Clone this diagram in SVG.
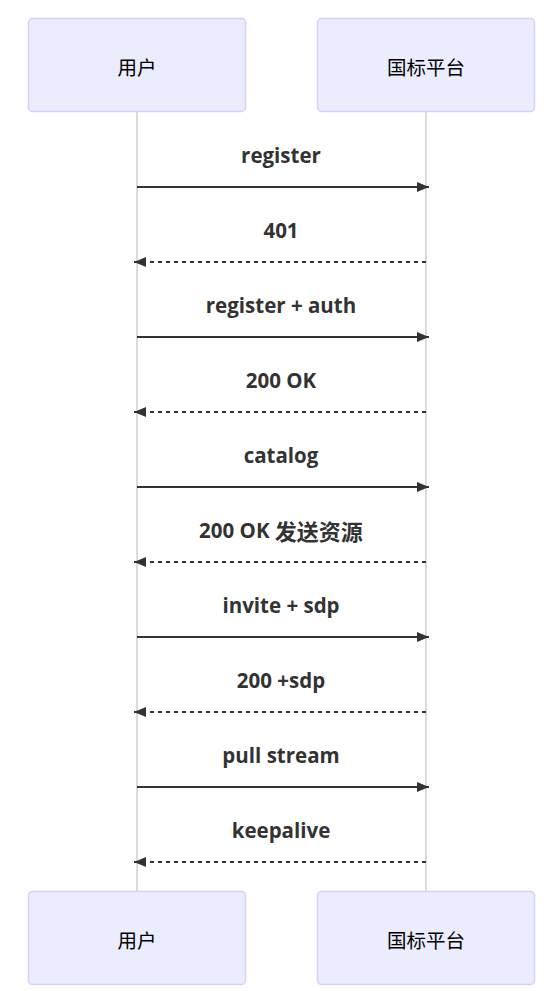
<svg xmlns="http://www.w3.org/2000/svg" width="551" height="991" viewBox="0 0 551 991">
<defs>
<style>
.actor{fill:#ECECFF;stroke:#D6D0FA;stroke-width:1.5}
.atext{font-family:"Noto Sans CJK SC","Noto Sans",sans-serif;font-size:19.5px;fill:#000;text-anchor:middle;dominant-baseline:central}
.life{stroke:#CFCFCF;stroke-width:1.5}
.msg{stroke:#333;stroke-width:2;fill:none}
.dash{stroke-dasharray:4,4}
.mtext{font-family:"Open Sans","Noto Sans CJK SC",sans-serif;font-size:20.5px;font-weight:bold;fill:#333;text-anchor:middle;dominant-baseline:central}
.cjk{font-family:"Noto Sans CJK SC",sans-serif;font-size:22px}
</style>
<marker id="ah" viewBox="0 0 12 10" refX="12" refY="5" markerWidth="12" markerHeight="10" markerUnits="userSpaceOnUse" orient="auto">
<path d="M0,0 L12,5 L0,10 z" fill="#333"/>
</marker>
</defs>
<g id="lifelines">
<line class="life" x1="137" y1="112" x2="137" y2="891"/>
<line class="life" x1="426" y1="112" x2="426" y2="891"/>
</g>
<g id="actor-user-top"><rect class="actor" x="28.5" y="18.5" width="217" height="93" rx="4"/><text class="atext" x="137" y="66">用户</text></g>
<g id="actor-platform-top"><rect class="actor" x="317.5" y="18.5" width="217" height="93" rx="4"/><text class="atext" x="426" y="66">国标平台</text></g>
<g id="actor-user-bottom"><rect class="actor" x="28.5" y="891.5" width="217" height="93" rx="4"/><text class="atext" x="137" y="939">用户</text></g>
<g id="actor-platform-bottom"><rect class="actor" x="317.5" y="891.5" width="217" height="93" rx="4"/><text class="atext" x="426" y="939">国标平台</text></g>
<g id="connectors">
<line class="msg" x1="137" y1="187" x2="429" y2="187" marker-end="url(#ah)"/>
<line class="msg dash" x1="426" y1="262" x2="134" y2="262" marker-end="url(#ah)"/>
<line class="msg" x1="137" y1="337" x2="429" y2="337" marker-end="url(#ah)"/>
<line class="msg dash" x1="426" y1="412" x2="134" y2="412" marker-end="url(#ah)"/>
<line class="msg" x1="137" y1="487" x2="429" y2="487" marker-end="url(#ah)"/>
<line class="msg dash" x1="426" y1="562" x2="134" y2="562" marker-end="url(#ah)"/>
<line class="msg" x1="137" y1="637" x2="429" y2="637" marker-end="url(#ah)"/>
<line class="msg dash" x1="426" y1="712" x2="134" y2="712" marker-end="url(#ah)"/>
<line class="msg" x1="137" y1="787" x2="429" y2="787" marker-end="url(#ah)"/>
<line class="msg dash" x1="426" y1="862" x2="134" y2="862" marker-end="url(#ah)"/>
</g>
<g id="labels">
<text class="mtext" x="281" y="155">register</text>
<text class="mtext" x="281" y="230">401</text>
<text class="mtext" x="281" y="305">register + auth</text>
<text class="mtext" x="281" y="380">200 OK</text>
<text class="mtext" x="281" y="455">catalog</text>
<text class="mtext" x="281" y="530">200 OK <tspan class="cjk">发送资源</tspan></text>
<text class="mtext" x="281" y="605">invite + sdp</text>
<text class="mtext" x="281" y="680">200 +sdp</text>
<text class="mtext" x="281" y="755">pull stream</text>
<text class="mtext" x="281" y="830">keepalive</text>
</g>
</svg>
